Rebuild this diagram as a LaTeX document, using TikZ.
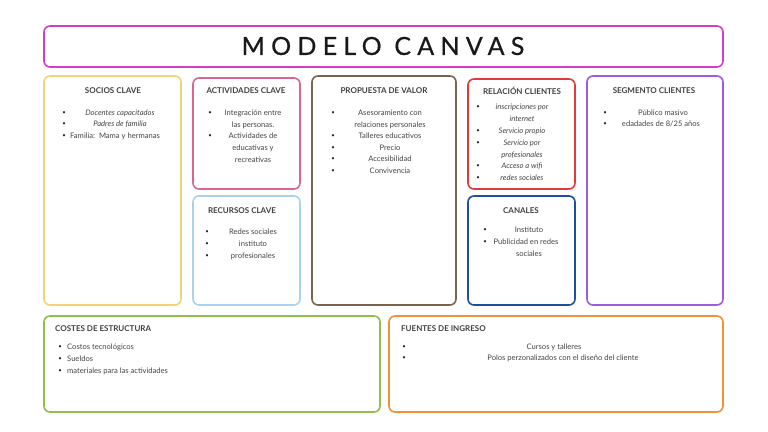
\documentclass[tikz,border=0pt]{standalone}
\usepackage{fontspec}
\setmainfont{Lato}
\newfontfamily\titlefont[LetterSpace=25,FakeBold=0.6]{Lato}
\definecolor{cTitle}{HTML}{D63CC4}
\definecolor{cYel}{HTML}{F2D478}
\definecolor{cPink}{HTML}{D9668E}
\definecolor{cLblue}{HTML}{A8D2F0}
\definecolor{cBrown}{HTML}{7A6450}
\definecolor{cRed}{HTML}{E03B3B}
\definecolor{cNavy}{HTML}{1F4FA0}
\definecolor{cPurp}{HTML}{9B5DE0}
\definecolor{cGreen}{HTML}{8FBF4A}
\definecolor{cOrange}{HTML}{F0923A}
\definecolor{cTxt}{HTML}{444444}
\tikzset{
  card/.style={draw=#1, line width=1.6pt, rounded corners=6pt},
  hd/.style={font=\fontsize{8}{9}\selectfont\bfseries, text=black!75, inner sep=0pt},
  tx/.style={font=\fontsize{7.6}{8}\selectfont, text=cTxt, inner sep=0pt},
  it/.style={tx, font=\fontsize{7.6}{8}\selectfont\itshape},
  bul/.style={font=\fontsize{6}{7}\selectfont, text=black!85, inner sep=0pt}
}
\begin{document}
\begin{tikzpicture}[x=1pt,y=-1pt]
\path[use as bounding box, fill=white] (0,0) rectangle (768,431);
% cards
\draw[card=cTitle] (44,26) rectangle (723,67);
\node[font=\fontsize{25}{27}\selectfont\titlefont, text=black!90] (title) at (383,46) {MODELO CANVAS};
\draw[card=cYel] (44,76) rectangle (181,305);
\draw[card=cPink] (193,78) rectangle (300,189);
\draw[card=cLblue] (193,196) rectangle (300,305);
\draw[card=cBrown] (312,76) rectangle (456,305);
\draw[card=cRed] (468,79) rectangle (575,189);
\draw[card=cNavy] (468,196) rectangle (575,305);
\draw[card=cPurp] (587,76) rectangle (723,305);
\draw[card=cGreen] (44,316) rectangle (380,412);
\draw[card=cOrange] (389,316) rectangle (723,412);
% socios
\node[hd] (h1) at (113,91) {SOCIOS CLAVE};
\foreach \y in {113,124,136} \node[bul] at (64,\y) {•};
\node[it] (s1) at (120,113) {Docentes capacitados};
\node[it] (s2) at (120,124) {Padres de familia};
\node[tx,anchor=west] (s3) at (70,136) {Familia:\ \ Mama y hermanas};
% actividades
\node[hd] (h2) at (246,91) {ACTIVIDADES CLAVE};
\foreach \y in {113,136} \node[bul] at (210,\y) {•};
\node[tx] at (253,113) {Integración entre};
\node[tx] at (253,125) {las personas.};
\node[tx] at (253,136) {Actividades de};
\node[tx] at (253,148) {educativas y};
\node[tx] at (253,160) {recreativas};
% recursos
\node[hd] (h3) at (242,211) {RECURSOS CLAVE};
\foreach \y in {232,244,256} \node[bul] at (207,\y) {•};
\node[tx] at (253,232) {Redes sociales};
\node[tx] at (253,244) {instituto};
\node[tx] at (253,256) {profesionales};
% propuesta
\node[hd] (h4) at (384,91) {PROPUESTA DE VALOR};
\foreach \y in {113,136,148,159,171} \node[bul] at (333,\y) {•};
\node[tx] at (390,113) {Asesoramiento con};
\node[tx] at (390,125) {relaciones personales};
\node[tx] at (390,136) {Talleres educativos};
\node[tx] at (390,148) {Precio};
\node[tx] at (390,159) {Accesibilidad};
\node[tx] at (390,171) {Convivencia};
% relacion
\node[hd] (h5) at (522,91) {RELACIÓN CLIENTES};
\foreach \y in {107,131,143,166,178} \node[bul] at (478,\y) {•};
\node[it] at (522,107) {inscripciones por};
\node[it] at (522,119) {internet};
\node[it] at (522,131) {Servicio propio};
\node[it] at (522,143) {Servicio por};
\node[it] at (522,155) {profesionales};
\node[it] at (522,166) {Acceso a wifi};
\node[it] at (522,178) {redes sociales};
% canales
\node[hd] (h6) at (521,211) {CANALES};
\foreach \y in {230,242} \node[bul] at (485,\y) {•};
\node[tx] at (529,230) {Instituto};
\node[tx] at (526,242) {Publicidad en redes};
\node[tx] at (529,254) {sociales};
% segmento
\node[hd] (h7) at (654,91) {SEGMENTO CLIENTES};
\foreach \y in {113,124} \node[bul] at (605,\y) {•};
\node[tx] at (663,113) {Público masivo};
\node[tx] at (661,124) {edadades de 8/25 años};
% costes
\node[hd,anchor=west] (h8) at (55,329) {COSTES DE ESTRUCTURA};
\foreach \y in {347,359,371} \node[bul] at (60,\y) {•};
\node[tx,anchor=west] at (67,347) {Costos tecnológicos};
\node[tx,anchor=west] at (67,359) {Sueldos};
\node[tx,anchor=west] at (67,371) {materiales para las actividades};
% fuentes
\node[hd,anchor=west] (h9) at (401,329) {FUENTES DE INGRESO};
\foreach \y in {347,358} \node[bul] at (404,\y) {•};
\node[tx] at (554,347) {Cursos y talleres};
\node[tx] at (563,358) {Polos perzonalizados con el diseño del cliente};
\end{tikzpicture}
\end{document}
